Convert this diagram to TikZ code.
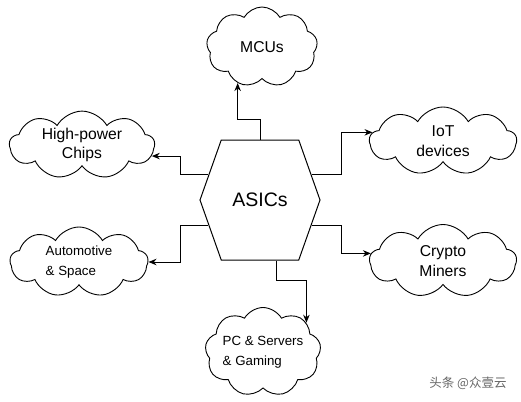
\documentclass[tikz,border=0pt]{standalone}
\usepackage{fontspec}
\setmainfont{Liberation Sans}
\newfontfamily\cjk{Noto Sans CJK SC}
\usetikzlibrary{shapes.symbols}
\usetikzlibrary{arrows.meta}

\begin{document}
\begin{tikzpicture}[x=1pt,y=-1pt,
	puff/.style={cloud, draw, cloud puffs=9, cloud puff arc=120, cloud ignores aspect, line width=0.9pt, inner sep=0pt},
	link/.style={line width=1pt, -{Stealth[length=8pt,width=6.5pt]}},
	big/.style={font=\fontsize{15.7}{19.5}\selectfont, align=center},
	small/.style={font=\fontsize{13.3}{19.5}\selectfont, align=left}]
\useasboundingbox (0,0) rectangle (521,401);

%chip
\node[signal, signal to=east and west, signal pointer angle=141, draw, line width=1pt, minimum width=120pt, minimum height=120pt, inner sep=0pt, font=\fontsize{19.5}{23}\selectfont] (asics) at (260,200) {ASICs};

%clouds
\node[puff, big, minimum width=111pt, minimum height=80pt] (mcu) at (262,47) {MCUs};
\node[puff, big, minimum width=145pt, minimum height=66pt] (hp) at (82,145) {High-power\\Chips};
\node[puff, small, minimum width=138pt, minimum height=70pt] (auto) at (79,262) {Automotive\\\& Space};
\node[puff, big, minimum width=147pt, minimum height=68pt] (iot) at (443,141) {IoT\\devices};
\node[puff, big, minimum width=147pt, minimum height=73pt] (crypto) at (443,261) {Crypto\\Miners};
\node[puff, small, minimum width=113pt, minimum height=89pt] (pc) at (263,352) {PC \& Servers\\\& Gaming};

%links
\draw[link] (asics.north) -- ++(0,-20) -| (mcu.236);
\draw[link] (asics.154) -- ++(-28,0) |- (hp.-9);
\draw[link] (asics.206) -- ++(-28,0) |- (auto.east);
\draw[link] (asics.26) -- ++(30,0) |- (iot.173);
\draw[link] (asics.-26) -- ++(30,0) |- (crypto.174);
\draw[link] (asics.-75) -- ++(0,20) -| (pc.34);

%watermark
\node[text=black!60, font=\cjk\fontsize{12.5}{14}\selectfont] (mark) at (468,383) {头条 @众壹云};
\end{tikzpicture}
\end{document}
